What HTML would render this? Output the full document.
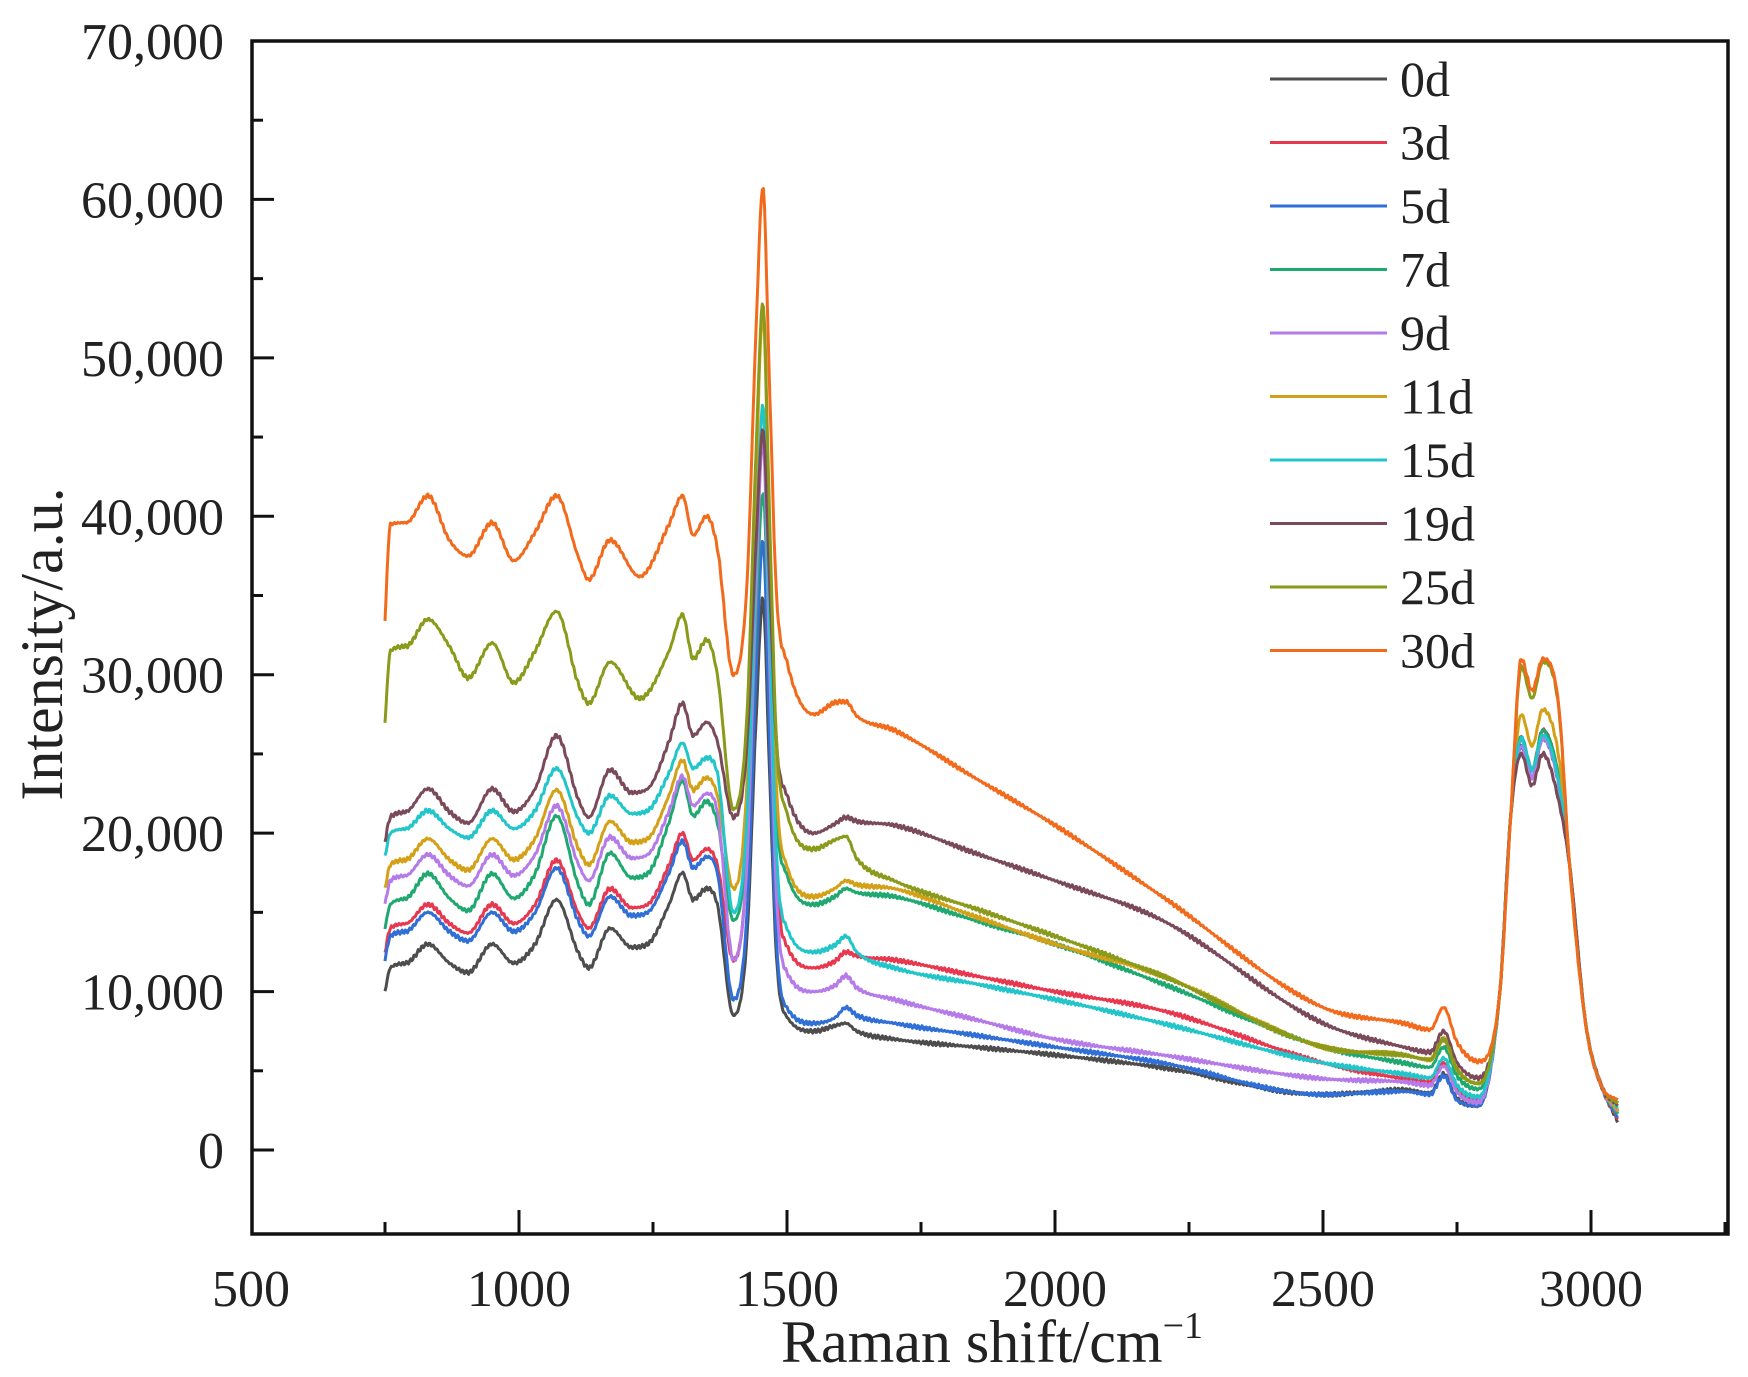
<!DOCTYPE html>
<html><head><meta charset="utf-8"><style>
html,body{margin:0;padding:0;background:#fff;}
svg{display:block;font-family:"Liberation Serif",serif;}
</style></head><body>
<svg id="s" width="1748" height="1377" viewBox="0 0 1748 1377" xmlns="http://www.w3.org/2000/svg">
<rect width="1748" height="1377" fill="#fff"/>
<g id="curves" fill="none" stroke-width="3" stroke-linejoin="round"></g>
<rect x="252" y="41" width="1476" height="1193" fill="none" stroke="#111" stroke-width="3.5"/>
<g id="ticks" stroke="#111" stroke-width="3"></g>
<g id="labels" font-size="52" fill="#222"></g>
<g id="legend"></g>
<text x="992" y="1362" font-size="60" text-anchor="middle" fill="#222">Raman shift/cm<tspan dy="-24" font-size="38">−1</tspan></text>
<text transform="translate(62,644) rotate(-90)" font-size="60" text-anchor="middle" fill="#222">Intensity/a.u.</text>
</svg>
<script>
var NS="http://www.w3.org/2000/svg";
function px(x){return 251+(x-500)*0.536;}
function py(v){return 1150-v*15.843;}
function el(t,a,p,txt){var e=document.createElementNS(NS,t);for(var k in a)e.setAttribute(k,a[k]);if(txt!==undefined)e.textContent=txt;p.appendChild(e);return e;}
var T=document.getElementById('ticks'),L=document.getElementById('labels');
for(var v=0;v<=70;v+=5){var y=py(v);var major=v%10==0;el('line',{x1:252,x2:252+(major?22:11),y1:y,y2:y},T);
 if(major)el('text',{x:224,y:y+18,'text-anchor':'end'},L,v==0?'0':(v/1)+',000');}
for(var x=750;x<=3250;x+=250){var X=px(x);var major=x%500==0;el('line',{x1:X,x2:X,y1:1234,y2:1234-(major?24:12)},T);}
for(var x=500;x<=3000;x+=500){el('text',{x:px(x),y:1306,'text-anchor':'middle'},L,String(x));}
function mono(P){var n=P.length,xs=P.map(p=>p[0]),ys=P.map(p=>p[1]),d=[],m=[];
 for(var i=0;i<n-1;i++)d.push((ys[i+1]-ys[i])/(xs[i+1]-xs[i]));
 m[0]=d[0];m[n-1]=d[n-2];for(var i=1;i<n-1;i++){m[i]=(d[i-1]*d[i]<=0)?0:(d[i-1]+d[i])/2;}
 for(var i=0;i<n-1;i++){if(d[i]==0){m[i]=m[i+1]=0;continue;}var a=m[i]/d[i],b=m[i+1]/d[i],s=a*a+b*b;if(s>9){var t=3/Math.sqrt(s);m[i]=t*a*d[i];m[i+1]=t*b*d[i];}}
 return function(x){var i=0;while(i<n-2&&x>xs[i+1])i++;var h=xs[i+1]-xs[i],t=(x-xs[i])/h,t2=t*t,t3=t2*t;
  return (2*t3-3*t2+1)*ys[i]+(t3-2*t2+t)*h*m[i]+(-2*t3+3*t2)*ys[i+1]+(t3-t2)*h*m[i+1];};}
var tmpl=[[750,10],[760,11.5],[790,11.8],[830,13],[870,11.8],[905,11.2],[950,13],[990,11.8],[1030,13],[1070,15.8],[1110,12.5],[1130,11.5],[1170,14],[1210,12.8],[1240,13],[1280,15.5],[1305,17.5],[1325,15.8],[1350,16.5],[1370,15.5]];
var S=[
 {n:'0d',c:'#4d4d4d',L:11.5,k:1,dip:8.5,pk:34.8,r:[7.5,8,7,6,5.2,3.5,3.8],p:[25.5,25]},
 {n:'3d',c:'#e8384f',L:14,k:1,dip:12,pk:45.5,r:[11.5,12.5,12,10,8.8,5.5,4.5],p:[26,26.5]},
 {n:'5d',c:'#2f6fd6',L:13.5,k:1,dip:9.5,pk:38.5,r:[8,9,8,6.5,5.5,3.5,3.7],p:[25.5,26]},
 {n:'7d',c:'#1fa870',L:15.5,k:1.3,dip:14.5,pk:41.5,r:[15.5,16.5,16,13,10.5,6.5,5.5],p:[26,26.5]},
 {n:'9d',c:'#b57be8',L:17,k:1.1,dip:12,pk:45,r:[10,11,9.5,7,6,4.5,4.3],p:[25.5,26]},
 {n:'11d',c:'#d4a017',L:18,k:1.1,dip:16.5,pk:53,r:[16,17,16.5,13,11,6.5,6],p:[27.5,27.8]},
 {n:'15d',c:'#22c5c9',L:20,k:0.95,dip:15,pk:47,r:[12.5,13.5,11.5,9.5,8,5.5,4.8],p:[26,26.2]},
 {n:'19d',c:'#7a4a5a',L:21,k:1.2,dip:21,pk:45.5,r:[20,21,20.5,17,14.5,8,6.5],p:[25,25]},
 {n:'25d',c:'#8a9a1a',left:[[750,27],[760,31.5],[790,31.8],[830,33.5],[870,31.8],[905,29.8],[950,32],[990,29.5],[1030,31.5],[1070,34],[1110,29.5],[1130,28.2],[1170,30.8],[1225,28.5],[1280,31.5],[1305,33.8],[1325,31],[1350,32.2],[1370,30]],dip:21.5,pk:53.5,r:[19,19.8,17,13.5,11,6.5,6],p:[30.5,30.8]},
 {n:'30d',c:'#f26a1b',left:[[750,33.5],[760,39.5],[790,39.6],[830,41.3],[870,38.5],[905,37.5],[950,39.6],[990,37.2],[1030,39],[1070,41.3],[1110,37.5],[1130,36],[1170,38.5],[1225,36.2],[1280,39.5],[1305,41.3],[1325,38.8],[1350,40],[1370,38]],dip:30,pk:60.8,r:[27.5,28.3,26.5,20.5,16,9,8],p:[31,31]}
];
var G=document.getElementById('curves'),LG=document.getElementById('legend');
S.forEach(function(s,idx){
 var P=s.left?s.left.slice():tmpl.map(q=>[q[0],s.L+(q[1]-11.5)*s.k]);
 if(!s.left)P[0][1]=s.L-1.5;
 var r=s.r,v15=r[0]*1.12;
 P.push([1400,s.dip],[1425,s.dip+(s.pk-s.dip)*0.18],[1442,s.dip+(s.pk-s.dip)*0.7],[1455,s.pk],[1467,v15+(s.pk-v15)*0.6],[1480,v15+(s.pk-v15)*0.15],[1500,v15],
  [1550,r[0]],[1590,r[0]*1.02+0.2],[1610,r[1]],[1630,(r[1]+r[2])/2],[1700,r[2]],[1850,(r[2]+r[3])/2],[2000,r[3]],[2200,r[4]],[2500,r[5]],[2650,r[6]],
  [2700,r[6]*0.95],[2725,r[6]+1.0],[2750,r[6]*0.85],[2790,Math.max(2.8,r[6]*0.7)],[2830,10],[2850,21],[2870,s.p[0]],[2890,s.p[0]-2],[2910,s.p[1]],[2940,s.p[1]-3],[2960,18],[2990,8],[3020,4],[3050,1.8+idx*0.15]);
 var f=mono(P),d='';
 for(var x=750;x<=3050;x+=2){var v=f(x)+0.08*Math.sin(x*0.9+idx)+0.05*Math.sin(x*2.3+idx*3);
  d+=(x==750?'M':'L')+px(x).toFixed(1)+','+py(v).toFixed(1);}
 el('path',{d:d,stroke:s.c},G);
 var y=79+idx*63.5;
 el('line',{x1:1270,x2:1387,y1:y,y2:y,stroke:s.c,'stroke-width':3},LG);
 el('text',{x:1400,y:y+17,'font-size':50,fill:'#222'},LG,s.n);
});
</script>
</body></html>
